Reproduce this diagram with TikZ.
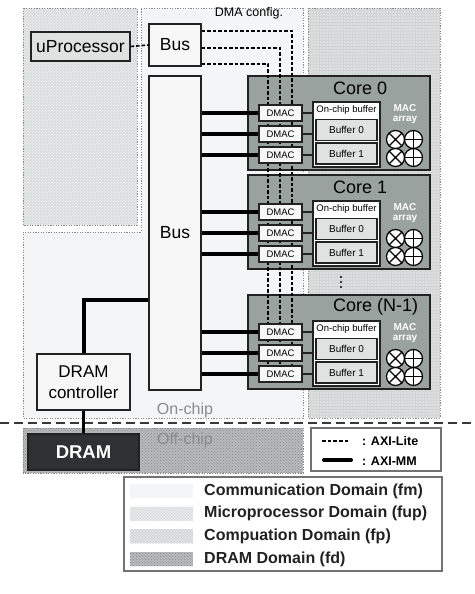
\documentclass[tikz,border=0pt]{standalone}
\usepackage{fontspec}
\setmainfont{Liberation Sans}
\usetikzlibrary{patterns}
\definecolor{fmc}{HTML}{F4F5F6}
\definecolor{fupc}{HTML}{DCDFDF}
\definecolor{fpc}{HTML}{D0D3D3}
\definecolor{fdc}{HTML}{B6BABA}
\definecolor{corec}{HTML}{9AA2A0}
\definecolor{bordc}{HTML}{222222}
\definecolor{domb}{HTML}{8A8A8A}
\definecolor{legb}{HTML}{727272}
\definecolor{dramfill}{HTML}{2E3131}
\definecolor{bufc}{HTML}{E0E2E2}
\definecolor{boxc}{HTML}{F7F7F7}
\begin{document}
\begin{tikzpicture}[x=1pt,y=-1pt,
  box/.style={draw=bordc, line width=1.2pt, fill=#1, inner sep=0pt, align=center},
  box/.default=boxc,
  domline/.style={draw=domb, line width=0.9pt, dash pattern=on 1.2pt off 1.4pt},
  fmdom/.style={fill=fmc},
  fupdom/.style={preaction={fill=fupc}, pattern=north east lines, pattern color=white!55!fupc},
  fpdom/.style={preaction={fill=fpc}, pattern=crosshatch, pattern color=white!45!fpc},
  fddom/.style={preaction={fill=fdc}, pattern=crosshatch dots, pattern color=fdc!75!black},
  axi/.style={line width=4pt, draw=black},
  axilite/.style={line width=1.6pt, draw=black, dash pattern=on 3.5pt off 2pt},
  thin/.style={line width=1.1pt, draw=bordc},
  dmacbox/.style={box=boxc, minimum width=43pt, minimum height=16pt, font=\fontsize{9.5}{10}\selectfont},
  corebox/.style={box=corec, minimum width=182pt, minimum height=94pt},
  buf/.style={box=bufc, minimum width=61pt, minimum height=21pt, font=\fontsize{10}{11}\selectfont},
  legtext/.style={anchor=west, font=\bfseries\fontsize{16}{18}\selectfont, text=bordc, inner sep=0pt},
  swatch/.style={minimum width=63pt, minimum height=14pt, inner sep=0pt},
  opcircle/.style={circle, draw=black, line width=1.2pt, fill=white, minimum size=18pt, inner sep=0pt},
]
\useasboundingbox[fill=white] (0,0) rectangle (474,594);

% ---------- domains ----------
\path[fmdom, domline] (141,8) -- (303,8) -- (303,418) -- (23,418) -- (23,232) -- (141,232) -- cycle;
\path[fupdom, domline] (23,8) rectangle (137,225);
\path[fpdom, domline] (308,8) rectangle (440,418);
\path[fddom, domline] (23,428) rectangle (303,473);

\draw[line width=1.2pt, draw=bordc!90, dash pattern=on 9pt off 5pt] (0,423) -- (474,423);
\node[text=domb, font=\fontsize{16}{18}\selectfont, inner sep=0pt] (onchip) at (185,410) {On-chip};
\node[text=domb, font=\fontsize{16}{18}\selectfont, inner sep=0pt] (offchip) at (185,440) {Off-chip};

% ---------- left components ----------
\node[box=bufc, minimum width=99pt, minimum height=29pt, font=\fontsize{17.5}{19}\selectfont] (up) at (80.5,46.5) {uProcessor};
\node[box, minimum width=52pt, minimum height=42pt, font=\fontsize{17.5}{19}\selectfont] (busS) at (175,45) {Bus};
\node[box, minimum width=52pt, minimum height=314pt, font=\fontsize{17.5}{19}\selectfont] (busB) at (175,233) {Bus};
\node[box, minimum width=93pt, minimum height=56pt, font=\fontsize{17}{21}\selectfont] (dramc) at (83.5,382) {DRAM\\controller};
\node[box=dramfill, minimum width=111pt, minimum height=36pt, text=white, font=\bfseries\fontsize{18.5}{20}\selectfont] (dram) at (83.5,452) {DRAM};
\node[font=\fontsize{12.5}{13}\selectfont, inner sep=0pt] (dmacfg) at (249,13) {DMA config.};

\draw[axilite] (up.east) -- (busS.west);
\draw[axi] (dramc.north) |- (busB.west |- 0,300);
\draw[line width=3.5pt] (dramc.south) -- (dram.north);

% ---------- cores ----------
\foreach \o/\n/\lab in {0/a/{Core 0}, 99/b/{Core 1}, 219/c/{Core (N-1)}}{
  \node[corebox] (core\n) at (339,123+\o) {};
  \node[anchor=west, inner sep=0pt, font=\fontsize{18}{20}\selectfont] (lab\n) at (333,88+\o) {\lab};
  \node[box=white, minimum width=67pt, minimum height=65pt] (ocb\n) at (346.5,134.5+\o) {};
  \node[inner sep=0pt, font=\fontsize{9.5}{10}\selectfont] (ocbt\n) at (346.5,110+\o) {On-chip buffer};
  \node[buf] (bufa\n) at (346.5,130+\o) {Buffer 0};
  \node[buf] (bufb\n) at (346.5,153.5+\o) {Buffer 1};
  \node[text=white, font=\bfseries\fontsize{10}{11}\selectfont, inner sep=0pt] (mac\n) at (405,108+\o) {MAC};
  \node[text=white, font=\bfseries\fontsize{10}{11}\selectfont, inner sep=0pt] (arr\n) at (405,120+\o) {array};
  \foreach \yy/\k in {139.5/1,157.5/2}{
    \node[opcircle] (mul\n\k) at (395.5,\yy+\o) {};
    \draw[line width=1.2pt] (mul\n\k.north east) -- (mul\n\k.south west) (mul\n\k.north west) -- (mul\n\k.south east);
    \node[opcircle] (add\n\k) at (413.5,\yy+\o) {};
    \draw[line width=1.2pt] (add\n\k.north) -- (add\n\k.south) (add\n\k.west) -- (add\n\k.east);
  }
}

% dashed DMA config lines (behind DMACs)
\draw[axilite] (busS.east |- 0,31) -| (292,373);
\draw[axilite] (busS.east |- 0,48) -| (280,373);
\draw[axilite] (busS.east |- 0,64) -| (268,373);

\foreach \o/\n in {0/a, 99/b, 219/c}{
  \foreach \yy/\k in {113/1,134/2,155/3}{
    \node[dmacbox] (dmac\n\k) at (280.5,\yy+\o) {DMAC};
    \draw[axi] (busB.east |- dmac\n\k.west) -- (dmac\n\k.west);
    \draw[thin] (dmac\n\k.east) -- (ocb\n.west |- dmac\n\k.east);
  }
}

% dots between cores
\foreach \yy in {277,282,287}{ \fill (341,\yy) circle (1.2pt); }

% ---------- legends ----------
\node[draw=legb, line width=2pt, minimum width=130pt, minimum height=43pt, inner sep=0pt] (leg1) at (376,449.5) {};
\draw[line width=1.4pt, dash pattern=on 3.5pt off 2.2pt] (322,441) -- (350,441);
\node[anchor=west, inner sep=0pt, font=\bfseries\fontsize{12.5}{14}\selectfont] (lite) at (362,441) {: AXI-Lite};
\draw[line width=4pt, line cap=round] (324,460) -- (351,460);
\node[anchor=west, inner sep=0pt, font=\bfseries\fontsize{12.5}{14}\selectfont] (mm) at (362,461) {: AXI-MM};

\node[draw=legb, line width=2pt, minimum width=318pt, minimum height=94pt, inner sep=0pt] (leg2) at (283,524) {};
\node[swatch, fmdom] (s1) at (161.5,491) {};
\node[swatch, fupdom] (s2) at (161.5,513.5) {};
\node[swatch, fpdom] (s3) at (161.5,536) {};
\node[swatch, fddom] (s4) at (161.5,559) {};
\node[legtext] (t1) at (204,491) {Communication Domain (fm)};
\node[legtext] (t2) at (204,513.5) {Microprocessor Domain (fup)};
\node[legtext] (t3) at (204,536) {Compuation Domain (fp)};
\node[legtext] (t4) at (204,559) {DRAM Domain (fd)};
\end{tikzpicture}
\end{document}
